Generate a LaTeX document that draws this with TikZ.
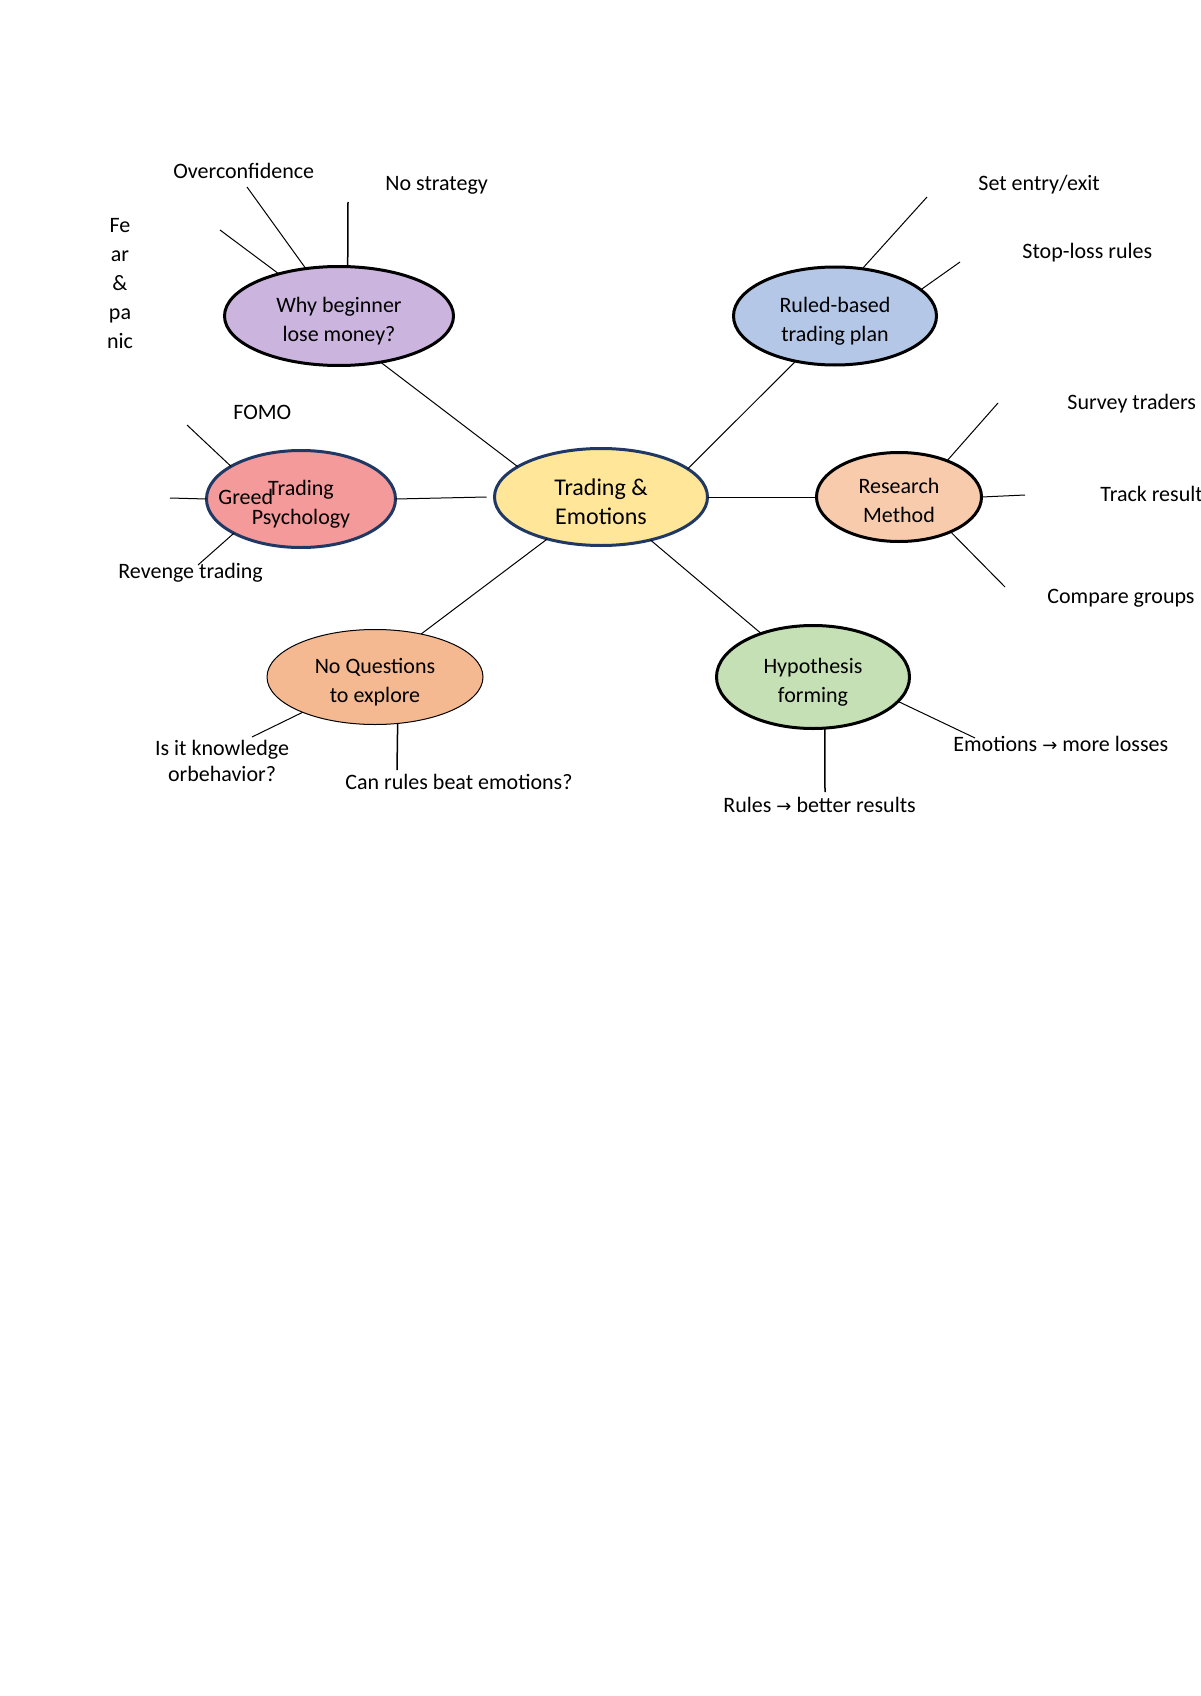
\documentclass[tikz,border=0pt]{standalone}
\usepackage{fontspec}
\setmainfont{Carlito}
\newfontfamily\symf{DejaVu Sans}
\usetikzlibrary{shapes.geometric}
\definecolor{cwhy}{RGB}{203,181,222}
\definecolor{cruled}{RGB}{180,199,231}
\definecolor{ccenter}{RGB}{255,230,153}
\definecolor{cpsych}{RGB}{244,154,155}
\definecolor{cresearch}{RGB}{248,203,173}
\definecolor{cnoq}{RGB}{244,185,145}
\definecolor{chypo}{RGB}{197,224,180}
\definecolor{navy}{RGB}{31,56,100}
\newcommand{\arr}{{\symf\fontsize{9}{10}\selectfont →}}
\begin{document}
\begin{tikzpicture}[x=0.5pt,y=-0.5pt,
  bubble/.style={ellipse, inner sep=0pt, outer sep=0pt, align=center,
    font=\fontsize{11}{14.5}\selectfont, line width=1.5pt, draw=black,
    execute at begin node={\rule{0pt}{27.5pt}},
    execute at end node={\rule[-2.5pt]{0pt}{2.5pt}}},
  lbl/.style={inner sep=0pt, font=\fontsize{11}{14}\selectfont,
    text height=7.5pt, text depth=1.5pt},
  mlbl/.style={inner sep=0pt, align=center},
  conn/.style={line width=0.5pt, draw=black}]
\useasboundingbox[fill=white] (0,0) rectangle (1200,1696);

% main bubbles
\node[bubble, fill=ccenter, draw=navy, font=\fontsize{12}{14.5}\selectfont,
  execute at begin node={\rule{0pt}{30pt}},
  minimum width=106.5pt, minimum height=48.5pt] (center) at (601,497) {Trading \&\\Emotions};
\node[bubble, fill=cwhy, minimum width=114.5pt, minimum height=49.5pt] (why) at (339,316) {Why beginner\\lose money?};
\node[bubble, fill=cruled, minimum width=101.5pt, minimum height=49pt] (ruled) at (835,316) {Ruled-based\\trading plan};
\node[bubble, fill=cpsych, draw=navy, minimum width=94.5pt, minimum height=48.5pt] (psych) at (301,499) {Trading\\Psychology};
\node[bubble, fill=cresearch, minimum width=82.5pt, minimum height=44.5pt] (research) at (899,497) {Research\\Method};
\node[bubble, fill=cnoq, line width=0.5pt, minimum width=108pt, minimum height=47.5pt] (noq) at (375,677) {No Questions\\to explore};
\node[bubble, fill=chypo, minimum width=96.5pt, minimum height=51.5pt] (hypo) at (813,677) {Hypothesis\\forming};

% labels
\node[lbl, anchor=west] (overL) at (173,173) {Overconfidence};
\node[lbl, anchor=west] (stratL) at (385,185) {No strategy};
\node[mlbl, font=\fontsize{11}{14.5}\selectfont] (fearL) at (120,284) {Fe\\ar\\\&\\pa\\nic};
\node[lbl, anchor=west] (setL) at (978,185) {Set entry/exit};
\node[lbl, anchor=west] (stopL) at (1022,252) {Stop-loss rules};
\node[lbl, anchor=west] (fomoL) at (233,413) {FOMO};
\node[lbl, anchor=west] (greedL) at (218,498) {Greed};
\node[lbl, anchor=west] (revL) at (118,572) {Revenge trading};
\node[lbl, anchor=west] (survL) at (1067,403) {Survey traders};
\node[lbl, anchor=west] (trackL) at (1100,495) {Track result};
\node[lbl, anchor=west] (compL) at (1047,597) {Compare groups};
\node[mlbl, font=\fontsize{11}{13}\selectfont] (knowL) at (222,761) {Is it knowledge\\orbehavior?};
\node[lbl, anchor=west] (canL) at (345,783) {Can rules beat emotions?};
\node[lbl, anchor=west] (emoL) at (953,745) {Emotions \arr{} more losses};
\node[lbl, anchor=west] (rulesL) at (723,806) {Rules \arr{} better results};

% free ends of connectors
\coordinate (fearA) at (220,230);
\coordinate (overA) at (247,187);
\coordinate (stratA) at (348,202);
\coordinate (setA) at (927,197);
\coordinate (stopA) at (960,262);
\coordinate (fomoA) at (187,425);
\coordinate (greedA) at (170,498);
\coordinate (revA) at (198,565);
\coordinate (survA) at (998,403);
\coordinate (trackA) at (1025,495);
\coordinate (compA) at (1005,587);
\coordinate (knowA) at (252,737);
\coordinate (canA) at (397,770);
\coordinate (emoA) at (975,738);
\coordinate (rulesA) at (825,792);

% connectors between bubbles
\draw[conn] (why.-48) -- (center.160);
\draw[conn] (center.18) -- (ruled.229);
\draw[conn] (psych.east) -- ([xshift=-4pt]center.west);
\draw[conn] (center.east) -- (research.west);
\draw[conn] (center.218) -- (noq.43);
\draw[conn] (center.-41.5) -- (hypo.140);

% branch connectors
\draw[conn] (fearA) -- (why.145);
\draw[conn] (overA) -- (why.125);
\draw[conn, line width=0.75pt] (stratA) -- (why.80);
\draw[conn] (ruled.60) -- (setA);
\draw[conn] (ruled.17.5) -- (stopA);
\draw[conn] (fomoA) -- (psych.155);
\draw[conn] (greedA) -- (psych.west);
\draw[conn] (revA) -- (psych.207);
\draw[conn] (research.37) -- (survA);
\draw[conn] (research.east) -- (trackA);
\draw[conn] (research.-34.4) -- (compA);
\draw[conn] (knowA) -- (noq.206);
\draw[conn, line width=0.75pt] (noq.-64.4) -- (canA);
\draw[conn] (hypo.-16) -- (emoA);
\draw[conn, line width=0.75pt] (hypo.-77.2) -- (rulesA);
\end{tikzpicture}
\end{document}
